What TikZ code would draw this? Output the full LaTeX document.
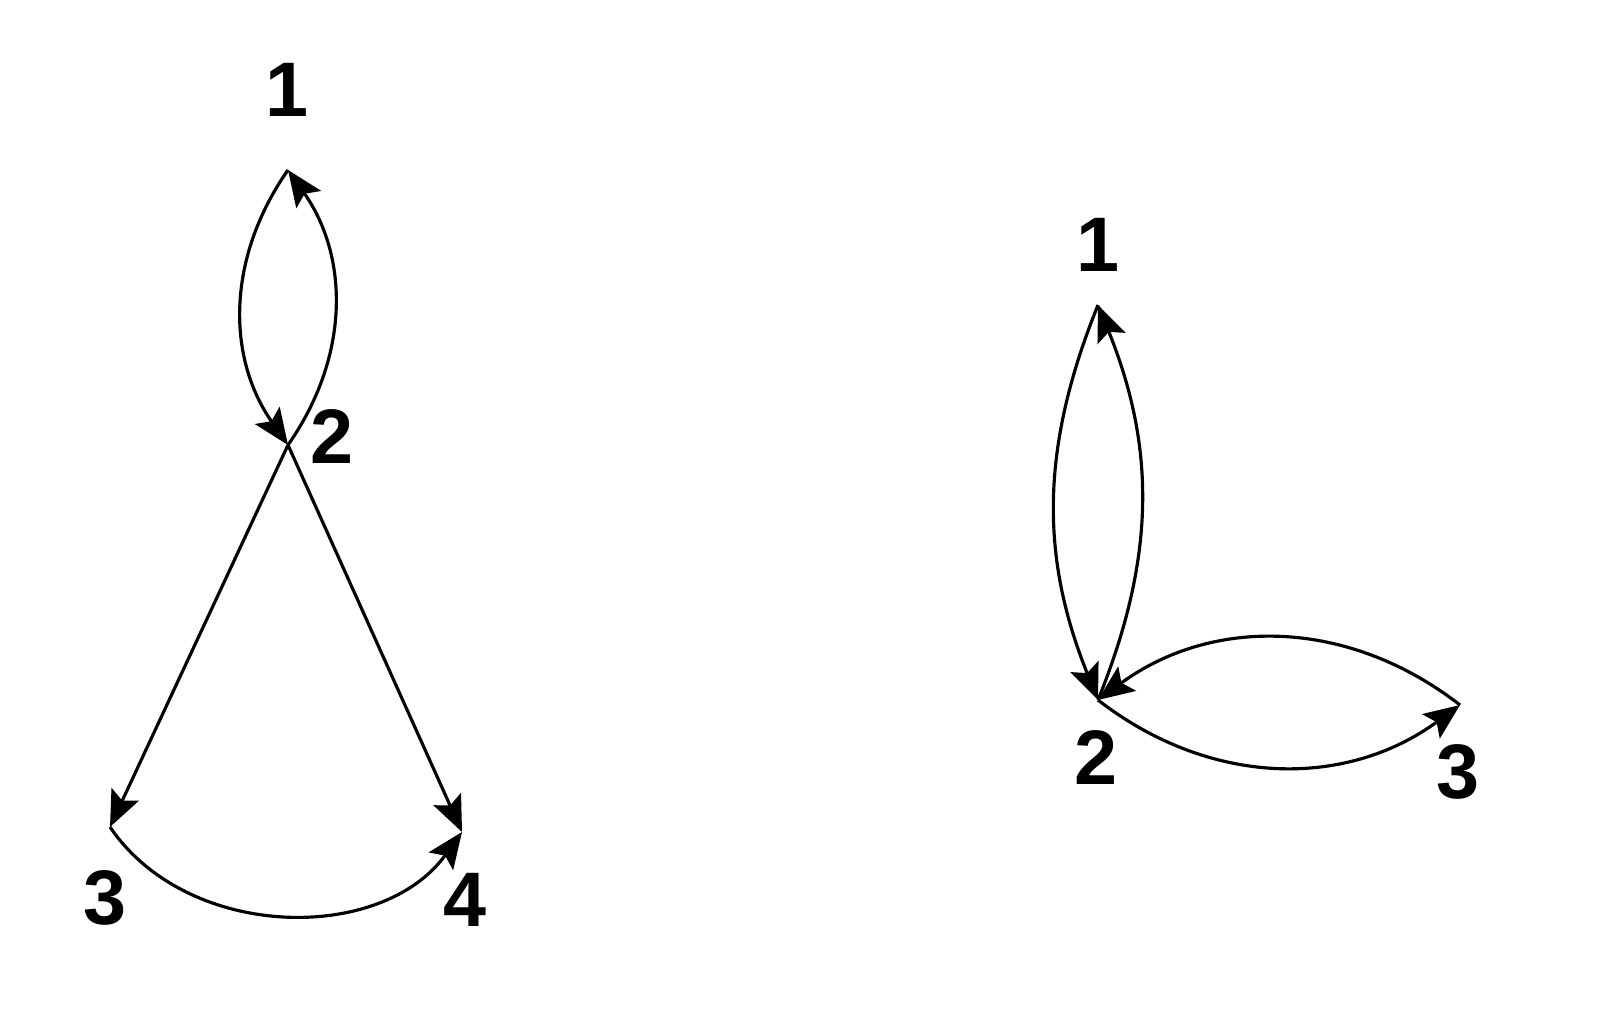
\documentclass[tikz,border=0pt]{standalone}
\usepackage{fontspec}
\setmainfont{Liberation Sans}
\usetikzlibrary{arrows.meta}
\tikzset{
  vertex/.style={inner sep=0, outer sep=0, minimum size=0},
  vlabel/.style={inner sep=0, font=\fontsize{22}{22}\selectfont\bfseries},
  edge/.style={draw=black, line width=0.9pt, -{Stealth[length=0.36cm, width=0.3cm, inset=0.07cm]}}
}
\begin{document}
\begin{tikzpicture}
  \useasboundingbox (0,0) rectangle (16,10.2);
  % left graph
  \node[vertex] (a1) at (2.88, 8.50) {};
  \node[vertex] (a2) at (2.88, 5.75) {};
  \node[vertex] (a3) at (1.10, 1.93) {};
  \node[vertex] (a4) at (4.62, 1.88) {};
  \node[vlabel] (la1) at (2.87, 9.30) {1};
  \node[vlabel] (la2) at (3.32, 5.83) {2};
  \node[vlabel] (la3) at (1.05, 1.22) {3};
  \node[vlabel] (la4) at (4.65, 1.20) {4};

  \draw[edge] (a1) to[bend right=35] (a2);
  \draw[edge] (a2) to[bend right=35] (a1);
  \draw[edge] (a2) -- (a3);
  \draw[edge] (a2) -- (a4);
  \draw[edge] (a3) to[bend right=55] (a4);

  % right graph
  \node[vertex] (b1) at (10.98, 7.15) {};
  \node[vertex] (b2) at (10.98, 3.20) {};
  \node[vertex] (b3) at (14.60, 3.15) {};
  \node[vlabel] (lb1) at (10.98, 7.75) {1};
  \node[vlabel] (lb2) at (10.96, 2.62) {2};
  \node[vlabel] (lb3) at (14.58, 2.48) {3};

  \draw[edge] (b1) to[bend right=22] (b2);
  \draw[edge] (b2) to[bend right=22] (b1);
  \draw[edge] (b2) to[bend right=37] (b3);
  \draw[edge] (b3) to[bend right=37] (b2);
\end{tikzpicture}
\end{document}
